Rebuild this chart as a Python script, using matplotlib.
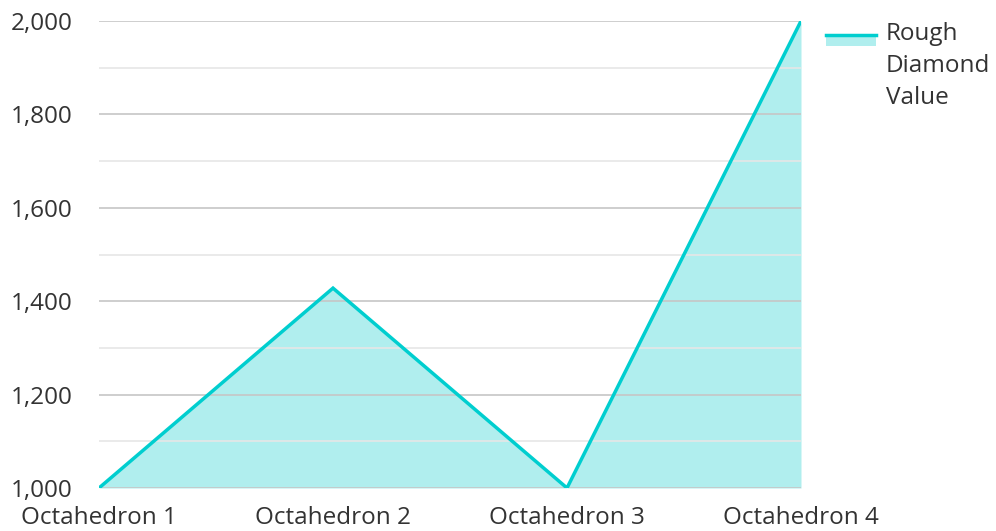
import matplotlib.pyplot as plt
from matplotlib.patches import Rectangle
from matplotlib.lines import Line2D

plt.rcParams['font.family'] = ['Open Sans', 'DejaVu Sans']

categories = ['Octahedron 1', 'Octahedron 2', 'Octahedron 3', 'Octahedron 4']
values = [1000, 1428, 1000, 2000]
series_name = 'Rough\nDiamond\nValue'

line_color = '#00cecf'
fill_color = '#b0eeee'

fig = plt.figure(figsize=(9.96, 5.31), dpi=100)
ax = fig.add_axes([99/996, 1 - 488/531, (801-99)/996, (488-21)/531])

x = range(len(categories))
ax.fill_between(x, 1000, values, color=fill_color, lw=0, zorder=1)
ax.plot(x, values, color=line_color, lw=2.5, zorder=3, solid_joinstyle='miter')

ax.set_xlim(0, len(categories) - 1)
ax.set_ylim(1000, 2000)
ax.set_yticks(range(1000, 2001, 200))
ax.set_yticks(range(1100, 2000, 200), minor=True)
ax.set_yticklabels([f'{v:,}' for v in range(1000, 2001, 200)])
ax.set_xticks(list(x))
ax.set_xticklabels(categories)

ax.grid(axis='y', which='major', color='#c6c6c6', lw=1.2, zorder=2)
ax.grid(axis='y', which='minor', color='#e6e6e6', lw=1.2, zorder=2)
ax.set_axisbelow(False)
for s in ax.spines.values():
    s.set_visible(False)
ax.tick_params(axis='both', which='both', length=0, labelsize=17.5)
ax.tick_params(axis='y', pad=19)
ax.tick_params(axis='x', pad=13)
for t in ax.get_xticklabels() + ax.get_yticklabels():
    t.set_color('#333333')

# legend
fig.patches.append(Rectangle((826/996, 1 - 46/531), 50/996, 11/531,
                             transform=fig.transFigure, color=fill_color, lw=0))
fig.lines.append(Line2D([826/996, 876/996], [1 - 35/531, 1 - 35/531],
                        transform=fig.transFigure, color=line_color, lw=2.5))
fig.text(886/996, 1 - 22/531, series_name, ha='left', va='top',
         fontsize=17.5, color='#333333', linespacing=1.45)

fig.savefig('out.png', dpi=100)
